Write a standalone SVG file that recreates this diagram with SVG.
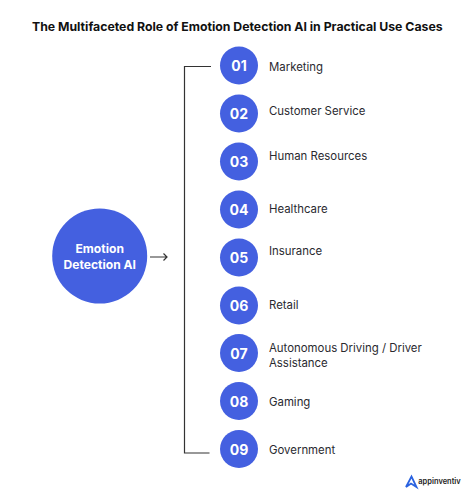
<svg xmlns="http://www.w3.org/2000/svg" width="474" height="501" viewBox="0 0 474 501">
<style>
text{font-family:Inter,"Liberation Sans",sans-serif}
.t{font-size:12.27px;font-weight:700;fill:#111}
.c{fill:#4460e0}
.n{font-size:14px;font-weight:700;fill:#fff;text-anchor:middle}
.l{font-size:11.4px;font-weight:400;fill:#2a2a30}
.h{font-size:12.1px;font-weight:700;fill:#fff;text-anchor:middle}
.w{fill:none;stroke:#333;stroke-width:1.2}
</style>
<rect width="474" height="501" fill="#fff"/>
<text class="t" x="32" y="31">The Multifaceted Role of Emotion Detection AI in Practical Use Cases</text>
<g id="connectors">
<path class="w" d="M211 66.500H184.500V453H209.500"/>
<path class="w" d="M150 257H167M163.500 253.500L167 257L163.500 260.500"/>
</g>
<g id="hub"><circle class="c" cx="99.700" cy="256" r="47.500"/><text class="h" x="99.700" y="253">Emotion</text><text class="h" x="99.700" y="269">Detection AI</text></g>
<g id="n1"><circle class="c" cx="239" cy="65.500" r="19"/><text class="n" x="239" y="71">01</text><text class="l" x="269" y="70.500">Marketing</text></g>
<g id="n2"><circle class="c" cx="239" cy="113.500" r="19"/><text class="n" x="239" y="119">02</text><text class="l" x="269" y="115">Customer Service</text></g>
<g id="n3"><circle class="c" cx="239" cy="161.500" r="19"/><text class="n" x="239" y="167">03</text><text class="l" x="269" y="160">Human Resources</text></g>
<g id="n4"><circle class="c" cx="239" cy="209.500" r="19"/><text class="n" x="239" y="215">04</text><text class="l" x="269" y="213">Healthcare</text></g>
<g id="n5"><circle class="c" cx="239" cy="257.500" r="19"/><text class="n" x="239" y="263">05</text><text class="l" x="269" y="254.500">Insurance</text></g>
<g id="n6"><circle class="c" cx="239" cy="305.500" r="19"/><text class="n" x="239" y="311">06</text><text class="l" x="269" y="309">Retail</text></g>
<g id="n7"><circle class="c" cx="239" cy="353" r="19"/><text class="n" x="239" y="358.500">07</text><text class="l" x="269" y="352">Autonomous Driving / Driver</text><text class="l" x="269" y="366.500">Assistance</text></g>
<g id="n8"><circle class="c" cx="239" cy="401" r="19"/><text class="n" x="239" y="406.500">08</text><text class="l" x="269" y="406">Gaming</text></g>
<g id="n9"><circle class="c" cx="239" cy="449" r="19"/><text class="n" x="239" y="454.500">09</text><text class="l" x="269" y="454">Government</text></g>
<g id="logo"><path d="M406 487L411.500 476.500L416.500 487L411 483.500Z" fill="none" stroke="#2a62e0" stroke-width="1.800"/><text x="418.300" y="483.500" font-size="7.500" font-weight="600" fill="#222">appinventiv</text></g>
</svg>
